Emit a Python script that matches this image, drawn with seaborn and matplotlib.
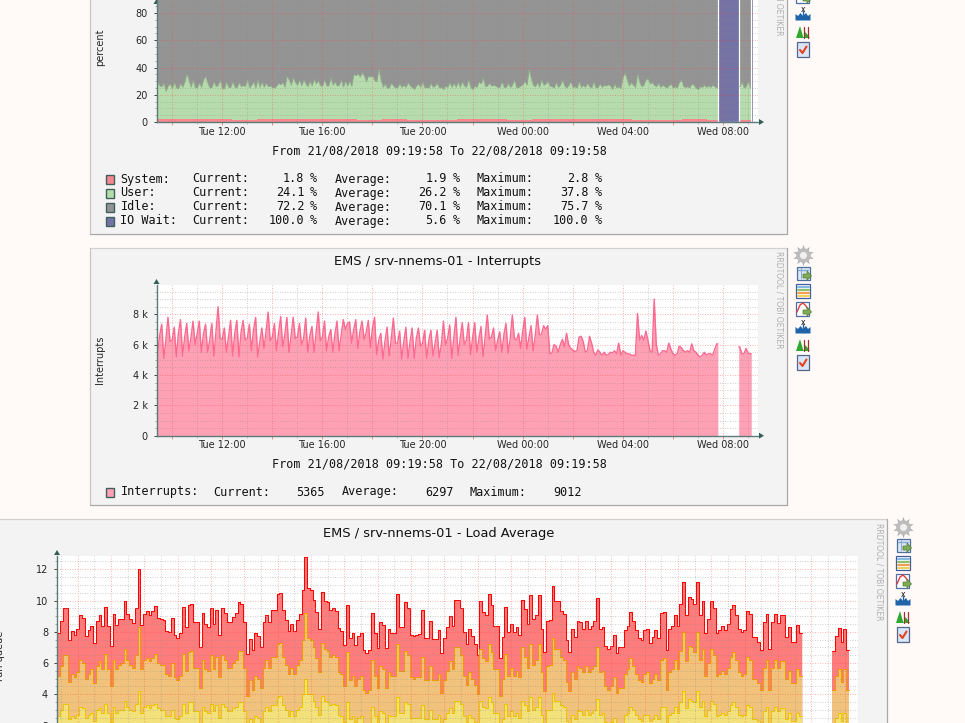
#!/usr/bin/env python3
# -*- coding: utf-8 -*-

import numpy as np
import matplotlib
matplotlib.use("Agg")
import matplotlib.pyplot as plt
from matplotlib.patches import Rectangle, Polygon
import seaborn as sns

# ================= 0. data (5 min samples) =================
START_HOUR = 9.38
END_HOUR = 33.40
GAP_END = 279  # first sample after the outage

# system + user, top of the green area
cpu_top = [
    29.5,26.5,26,28.5,22.5,26.5,28,24.5,29,25,24.5,28.5,25.5,29.5,35.5,30.5,25.5,31,25,25.5,
    28.5,25.5,31,33.5,28.5,25,25.5,29.5,26,27,31,24.5,24.5,29.5,25.5,25.5,29.5,25.5,25,29,
    26,27,26,31.5,25,27,29.5,25,31,25.5,29.5,25.5,28.5,26,26.5,25.5,25,26.5,28.5,27.5,
    29,25.5,33.5,31,27,32.5,29,27,31,26.5,31,28,26,30,26.5,31.5,28,30.5,26.5,26.5,
    31,26.5,26.5,32.5,27,29.5,26.5,27,31,25.5,30,26.5,30,26,35,34,35.5,33,36.5,34,
    29.5,34,33,34,30.5,29.5,39,31,25.5,28,25,25,28.5,26.5,25,25.5,28,25.5,27,25.5,
    29,26.5,25.5,24,26.5,28,25.5,29.5,25,25.5,25,28.5,25.5,26.5,28.5,25,25.5,24,26.5,25.5,
    29,25.5,28.5,25.5,29.5,25.5,29.5,26.5,25.5,31,25.5,24,26.5,25.5,29.5,28,32.5,26,26.5,28.5,
    26.5,27,26.5,25.5,25.5,29.5,25.5,25.5,28.5,25.5,27,31,25,25.5,26.5,27.5,30,27,38.5,32,
    27,26,29,25.5,31,27,28,30,26.5,26,25,29,25.5,27,31,26.5,25,27,29.5,25.5,
    26,25,29.5,25.5,27,25.5,28.5,26,25,29.5,25,25.5,28,25.5,27,26.5,27.5,26.5,24,28,
    25,26,24.5,33,36,31,26.5,29,27,25.5,35.5,29,26,27,31,32,28,29,27,26,
    28.5,25.5,27,26,25,26.5,28,25,26,25,29,31,26,25.5,26,25,28,27,25,24,
    26,25.5,27,25.5,26.5,25.5,27,26,25,
]
cpu_top_end = [26, 29.5, 25, 26, 30, 25]
# system is nearly flat, one value per hour is enough
system_hourly = [1.9,2.0,1.9,1.8,1.9,2.0,1.9,2.1,1.8,1.9,1.8,1.7,1.9,1.9,1.8,1.9,2.0,2.1,1.9,1.8,1.8,1.9,1.8]
system_end = [1.8]
io_wait_gap = [100.0] * 10
io_wait_end = [100.0]

# interrupts, in thousands
interrupts = [
    5.4,6.6,7.35, 5.1,6.35,7.8, 6.2,6.3,7.15, 5.2,6.75,7.65, 5.25,6.5,7.4, 5.6,6.45,7.55, 6.0,6.75,7.55,
    5.5,6.7,7.35, 5.5,6.3,7.4, 5.25,6.85,8.5, 6.4,6.35,7.1, 5.5,6.5,7.6, 5.25,6.75,7.6, 5.2,6.8,7.6,
    6.3,6.4,7.35, 5.6,7.0,7.8, 5.2,6.2,7.1, 5.75,6.9,8.15, 6.25,6.5,7.4, 5.6,6.8,7.85, 5.85,6.7,7.8,
    5.5,6.6,7.8, 6.4,6.5,7.4, 6.0,6.4,7.75, 5.5,6.6,7.2, 5.5,6.8,8.15, 6.25,6.5,7.55, 5.6,6.5,7.0,
    5.5,6.7,7.55, 5.6,6.6,7.65, 7.0,7.4,7.5, 6.1,7.0,7.65, 5.75,6.9,7.55, 6.35,6.8,7.6, 5.8,7.1,7.8,
    5.35,6.3,6.75, 5.05,6.25,7.15, 5.25,6.4,7.75, 6.1,6.1,6.9, 5.05,6.2,7.15, 5.1,6.2,7.1, 5.1,6.4,7.1,
    5.9,6.1,6.95, 5.1,6.3,6.95, 5.25,6.1,6.95, 5.15,6.0,7.55, 6.0,6.4,7.3, 5.1,6.5,7.8, 5.3,6.4,7.45,
    6.0,6.3,7.45, 5.35,6.5,7.45, 5.5,6.4,7.2, 5.2,6.6,7.95, 6.35,6.5,7.1, 5.6,6.3,6.85, 5.5,6.7,7.4,
    5.45,6.4,7.95, 6.4,6.3,6.75, 5.75,6.9,7.8, 5.7,6.5,7.25, 5.6,6.6,7.95, 6.65,6.7,7.25,
    7.0,7.25,5.4,5.45,6.0,5.9,5.5,6.0,6.35,5.85,6.75,6.0,5.75,5.65,5.55,5.6,6.5,6.55,6.2,5.5,
    5.6,6.55,6.1,5.5,5.3,5.65,5.5,5.3,5.5,5.3,5.35,5.5,5.45,5.6,5.4,6.1,5.3,5.6,5.5,5.4,
    5.4,5.3,5.3,5.3,8.05,6.3,6.6,6.3,6.9,6.3,5.6,5.5,9.0,6.0,5.3,5.4,5.6,5.6,5.5,6.1,
    5.7,5.4,5.3,5.4,5.9,5.8,5.6,5.5,5.6,5.5,6.05,5.6,5.5,5.3,5.2,5.3,5.5,5.3,5.4,5.4,
    5.3,5.7,6.05,
]
interrupts_end = [5.85, 5.4, 5.4, 5.75, 5.45, 5.4]

# run queue, tops of the three areas
load_1 = [
    7.9,8.7,9.5,9.5,7.5,8.05,7.8,8.2,9.1,8.9,7.7,8.1,8.4,7.3,8.7,9.05,8.4,9.6,8.4,7.1,
    9.15,8.45,8.8,8.85,10.0,9.15,8.8,8.55,9.55,12.0,8.45,9.15,9.3,9.05,9.3,9.65,8.9,8.8,8.75,8.05,
    8.0,8.9,7.8,7.6,7.95,9.6,8.3,9.7,9.8,8.6,8.6,7.05,9.2,8.5,8.3,9.5,8.5,9.4,7.8,9.5,
    9.2,8.6,8.6,8.95,9.2,9.9,9.8,8.6,6.55,7.55,6.85,7.95,7.7,7.05,8.6,9.1,8.6,9.4,9.4,10.4,
    10.5,9.4,8.75,8.05,8.5,8.05,8.75,9.15,10.7,12.8,10.8,10.7,10.05,9.25,8.2,10.55,10.0,9.9,9.4,9.5,
    9.35,8.25,8.05,7.15,9.7,7.6,7.9,7.15,7.7,7.95,6.85,6.65,6.85,9.2,7.95,6.95,8.65,8.45,6.95,8.2,
    7.9,7.9,10.4,8.3,8.3,9.9,9.5,7.8,7.7,7.8,7.85,9.4,7.6,7.6,8.7,7.55,7.55,8.1,6.65,7.6,
    8.3,9.0,8.4,10.05,10.05,9.55,8.0,7.25,8.2,7.75,7.25,6.5,10.0,9.25,9.05,10.4,9.7,8.4,8.4,6.35,
    7.65,9.6,8.0,8.5,8.0,8.3,7.8,10.05,9.45,8.5,10.35,8.8,9.1,10.35,8.2,6.7,8.7,8.75,10.9,10.0,
    10.0,9.35,9.15,7.45,6.7,8.2,7.65,8.7,8.6,8.15,8.7,8.2,8.4,8.7,10.15,8.2,8.3,7.1,6.9,7.1,
    7.8,6.65,7.0,7.0,8.1,8.4,9.25,8.7,8.1,7.6,7.45,8.1,8.2,7.3,7.65,8.1,7.6,9.2,9.25,6.85,
    8.2,8.4,9.1,8.4,9.8,11.2,9.05,10.2,10.1,9.75,11.2,9.1,10.0,7.95,8.85,10.0,9.55,7.9,8.1,8.35,
    8.1,8.5,9.45,9.7,9.1,8.2,8.0,8.1,9.35,9.15,7.65,7.65,7.35,6.85,8.6,9.15,6.9,8.6,9.15,8.55,
    9.05,9.05,7.65,8.3,7.35,7.35,8.45,7.9,
]
load_5 = [
    5.2,5.8,6.5,6.5,4.8,5.3,5.1,5.4,6.2,6.0,5.0,5.3,5.6,4.7,5.8,6.1,5.6,6.6,5.6,4.5,
    6.2,5.6,5.9,6.0,6.9,6.2,5.9,5.7,6.5,8.3,5.6,6.2,6.3,6.1,6.3,6.6,6.0,5.9,5.9,5.3,
    5.2,6.0,5.1,4.9,5.2,6.6,5.5,6.7,6.8,5.7,5.7,4.4,6.2,5.6,5.5,6.5,5.6,6.4,5.1,6.5,
    6.2,5.7,5.7,6.0,6.2,6.8,6.8,5.7,3.9,4.9,4.3,5.2,5.0,4.4,5.7,6.2,5.7,6.4,6.4,7.2,
    7.3,6.4,5.9,5.3,5.7,5.3,5.9,6.2,7.5,9.2,7.6,7.5,7.0,6.3,5.4,7.3,6.9,6.8,6.4,6.5,
    6.4,5.4,5.3,4.5,6.7,4.9,5.2,4.5,5.0,5.2,4.3,4.1,4.3,6.2,5.2,4.4,5.8,5.6,4.4,5.4,
    5.2,5.2,7.2,5.5,5.5,6.8,6.5,5.1,5.0,5.1,5.1,6.4,4.9,4.9,5.8,4.9,4.9,5.3,4.1,4.9,
    5.5,6.1,5.6,7.0,7.0,6.5,5.2,4.6,5.4,5.0,4.6,4.0,6.9,6.3,6.1,7.2,6.7,5.6,5.6,3.9,
    5.0,6.6,5.2,5.7,5.2,5.5,5.1,7.0,6.4,5.7,7.2,5.9,6.2,7.2,5.4,4.2,5.8,5.9,7.6,6.9,
    6.9,6.4,6.2,4.8,4.2,5.4,5.0,5.8,5.7,5.4,5.8,5.4,5.6,5.8,7.0,5.4,5.5,4.5,4.3,4.5,
    5.1,4.1,4.4,4.4,5.3,5.6,6.3,5.8,5.3,4.9,4.8,5.3,5.4,4.7,5.0,5.3,4.9,6.2,6.3,4.3,
    5.4,5.6,6.2,5.6,6.8,8.0,6.1,7.1,7.0,6.7,8.0,6.2,6.9,5.2,6.0,6.9,6.5,5.2,5.3,5.5,
    5.3,5.7,6.4,6.7,6.2,5.4,5.2,5.3,6.4,6.2,5.0,5.0,4.7,4.3,5.7,6.2,4.3,5.7,6.2,5.7,
    6.1,6.1,5.0,5.5,4.7,4.7,5.6,5.2,
]
load_15 = [
    2.6,3.0,3.4,3.4,2.4,2.6,2.5,2.7,3.2,3.1,2.5,2.7,2.8,2.3,3.0,3.1,2.8,3.4,2.8,2.2,
    3.2,2.8,3.0,3.0,3.6,3.2,3.0,2.9,3.4,4.2,2.8,3.2,3.3,3.1,3.3,3.4,3.1,3.0,3.0,2.6,
    2.6,3.0,2.5,2.4,2.6,3.4,2.8,3.5,3.5,2.9,2.9,2.1,3.2,2.9,2.8,3.4,2.9,3.3,2.5,3.4,
    3.2,2.9,2.9,3.1,3.2,3.5,3.5,2.9,1.9,2.4,2.0,2.6,2.5,2.1,2.9,3.2,2.9,3.3,3.3,3.8,
    3.9,3.3,3.0,2.6,2.9,2.6,3.0,3.2,4.0,5.0,4.0,4.0,3.6,3.2,2.7,3.9,3.6,3.5,3.3,3.4,
    3.3,2.7,2.6,2.2,3.5,2.4,2.6,2.2,2.5,2.6,2.0,1.9,2.0,3.2,2.6,2.1,2.9,2.8,2.1,2.7,
    2.6,2.6,3.8,2.8,2.8,3.5,3.4,2.5,2.5,2.5,2.5,3.3,2.4,2.4,3.0,2.4,2.4,2.7,1.9,2.4,
    2.8,3.1,2.8,3.6,3.6,3.4,2.6,2.2,2.7,2.5,2.2,1.9,3.6,3.2,3.1,3.8,3.5,2.8,2.8,1.8,
    2.4,3.4,2.6,2.9,2.6,2.8,2.5,3.6,3.3,2.9,3.8,3.0,3.2,3.8,2.7,1.9,3.0,3.0,4.1,3.6,
    3.6,3.3,3.2,2.3,1.9,2.7,2.4,3.0,2.9,2.7,3.0,2.7,2.8,3.0,3.7,2.7,2.8,2.2,2.0,2.2,
    2.5,1.9,2.1,2.1,2.7,2.8,3.2,3.0,2.7,2.4,2.3,2.7,2.7,2.3,2.4,2.7,2.4,3.2,3.2,2.0,
    2.7,2.8,3.2,2.8,3.5,4.2,3.1,3.7,3.6,3.5,4.2,3.2,3.6,2.6,3.0,3.6,3.4,2.6,2.7,2.8,
    2.7,2.9,3.3,3.5,3.2,2.7,2.6,2.7,3.3,3.2,2.4,2.4,2.3,2.0,2.9,3.2,2.0,2.9,3.2,2.9,
    3.1,3.1,2.4,2.8,2.3,2.3,2.8,2.6,
]
load_1_end = [6.8, 7.7, 8.25, 7.35, 8.2, 6.85]
load_5_end = [4.3, 5.2, 5.6, 4.8, 5.6, 4.3]
load_15_end = [2.0, 2.5, 2.8, 2.3, 2.8, 2.0]

x_tick_hours = [12, 16, 20, 24, 28, 32]
x_tick_labels = ["Tue 12:00", "Tue 16:00", "Tue 20:00", "Wed 00:00", "Wed 04:00", "Wed 08:00"]
date_range = "From 21/08/2018 09:19:58 To 22/08/2018 09:19:58"

cpu_legend = [
    ("System:", "1.8", "1.9", "2.8", "#F6868F"),
    ("User:", "24.1", "26.2", "37.8", "#B5DDA9"),
    ("Idle:", "72.2", "70.1", "75.7", "#949494"),
    ("IO Wait:", "100.0", "5.6", "100.0", "#7373A5"),
]

# ================= 1. config =================
W, H = 965, 723
PAGE = "#FFFAF8"
PANEL = "#F3F3F3"
MONO = "DejaVu Sans Mono"
SANS = "DejaVu Sans"
AXIS = "#5B7C78"
ARROW = "#2F5F55"
MONO_SIZE = 8.45

sns.set_style("white")
plt.rcParams["font.family"] = [SANS]

fig = plt.figure(figsize=(W / 100, H / 100), dpi=100, facecolor=PAGE)
bg = fig.add_axes([0, 0, 1, 1], zorder=0)
bg.set_xlim(0, W)
bg.set_ylim(H, 0)
bg.axis("off")


# ================= 2. helpers =================
def step_xy(first, values):
    # one extra point so that the last sample gets its full width
    y = np.append(np.asarray(values, dtype=float), values[-1])
    x = START_HOUR + (first + np.arange(len(y))) / 12
    return x, y


def sloped_xy(first, values):
    # points in the middle of each sample, flat half sample at both ends of a run
    vals = np.asarray(values, dtype=float)
    y = np.concatenate([[vals[0]], vals, [vals[-1]]])
    pos = np.concatenate([[0.0], np.arange(len(vals)) + 0.5, [float(len(vals))]])
    return START_HOUR + (first + pos) / 12, y


def area(ax, first, values, fill, line=None, lw=0.8, base=0.0, sloped=False):
    if sloped:
        x, y = sloped_xy(first, values)
        ax.fill_between(x, base, y, color=fill, lw=0, zorder=1)
        style = "default"
    else:
        x, y = step_xy(first, values)
        ax.fill_between(x, base, y, step="post", color=fill, lw=0, zorder=1)
        style = "steps-post"
    if line:
        sns.lineplot(x=x, y=y, drawstyle=style, estimator=None, color=line,
                     lw=lw, ax=ax, legend=False, zorder=2)


def chart_axes(left, right, top, bottom, ylim, y_major, y_minor, y_labels):
    ax = fig.add_axes([left / W, 1 - bottom / H, (right - left) / W, (bottom - top) / H], zorder=2)
    ax.set_facecolor("white")
    ax.set_xlim(START_HOUR, END_HOUR)
    ax.set_ylim(*ylim)
    ax.set_xticks(np.arange(10, 34, 2))
    ax.set_xticks(np.arange(10, 34, 1), minor=True)
    ax.set_yticks(y_major)
    ax.set_yticklabels(y_labels)
    ax.set_yticks(np.arange(0, ylim[1], y_minor), minor=True)
    ax.tick_params(axis="y", which="major", length=2.4, width=0.7, color="#444444", pad=4, labelsize=7, left=True)
    ax.tick_params(axis="y", which="minor", length=1.4, width=0.5, color="#888888", left=True)
    ax.tick_params(axis="x", which="major", length=2.4, width=0.7, color="#EE8888", pad=1, labelsize=7, bottom=True)
    ax.tick_params(axis="x", which="minor", length=1.4, width=0.5, color="#AAAAAA", bottom=True)
    ax.set_axisbelow(False)
    ax.grid(True, which="minor", color="#8A8A8A", alpha=0.55, lw=0.6, ls=(0, (1, 2)))
    ax.grid(True, which="major", color="#FF4040", alpha=0.55, lw=0.6, ls=(0, (1, 2)))
    sns.despine(ax=ax)
    for side in ["left", "bottom"]:
        ax.spines[side].set_color(AXIS)
        ax.spines[side].set_linewidth(1.0)
        ax.spines[side].set_zorder(4)
    return ax


def hour_labels(ax):
    # text only every 4 hours, the ticks in between stay bare
    labels = [x_tick_labels[x_tick_hours.index(h)] if h in x_tick_hours else "" for h in np.arange(10, 34, 2)]
    ax.set_xticklabels(labels)


def panel(left, top, right, bottom):
    bg.add_patch(Rectangle((left, top), right - left, bottom - top, fc=PANEL, ec="none", zorder=1))
    bg.plot([left, right], [top, top], color="#D4D0CE", lw=0.9, zorder=2)
    bg.plot([left, left], [top, bottom], color="#C4C4C4", lw=0.9, zorder=2)
    bg.plot([right, right], [top, bottom], color="#A8A8A8", lw=0.9, zorder=2)
    bg.plot([left, right], [bottom, bottom], color="#A8A8A8", lw=0.9, zorder=2)


def arrows(x_axis, y_axis, y_top, x_right=None):
    bg.add_patch(Polygon([[x_axis - 3, y_top], [x_axis + 3, y_top], [x_axis, y_top - 5]], fc=ARROW, ec="none", zorder=3))
    if x_right is not None:
        bg.add_patch(Polygon([[x_right, y_axis - 3], [x_right, y_axis + 3], [x_right + 5, y_axis]], fc=ARROW, ec="none", zorder=3))


def watermark(x, y_top):
    bg.text(x, y_top, "RRDTOOL / TOBI OETIKER", rotation=270, fontsize=5.5, color="#AFAFAF",
            ha="center", va="top", zorder=3)


def swatch(y, color):
    bg.add_patch(Rectangle((105.5, y - 4.5), 8.5, 9, fc=color, ec="#3F5F5C", lw=1, zorder=3))


def mono(x, y, text, ha="left"):
    bg.text(x, y, text, family=MONO, fontsize=MONO_SIZE, ha=ha, va="center", color="#111111", zorder=3)


def doc(cx, cy, w=11, h=14, fc="#DCE8F8", ec="#4F6F9F"):
    bg.add_patch(Rectangle((cx - w / 2, cy - h / 2), w, h, fc=fc, ec=ec, lw=0.9, zorder=3))


def green_arrow(cx, y):
    bg.add_patch(Polygon([[cx + 0, y + 1], [cx + 4, y + 1], [cx + 4, y - 2], [cx + 8.5, y + 3], [cx + 4, y + 7], [cx + 4, y + 5], [cx + 0, y + 5]],
                         fc="#7FAE52", ec="#4F7A33", lw=0.5, zorder=4))


def icons(cx, y0):
    # gear
    bg.scatter([cx], [y0], marker=(10, 1, 0), s=240, color="#A8A8A8", zorder=3, lw=0)
    bg.scatter([cx], [y0], marker="o", s=110, color="#BDBDBD", zorder=3, lw=0)
    bg.scatter([cx], [y0], marker="o", s=26, color="#F0F0F0", zorder=4, lw=0)
    # table with arrow
    y = y0 + 18
    doc(cx, y, 13, 13)
    bg.plot([cx - 5, cx + 5], [y - 3, y - 3], color="#88AACC", lw=1, zorder=3)
    bg.plot([cx - 2, cx - 2], [y - 5, y + 5], color="#88AACC", lw=0.7, zorder=3)
    green_arrow(cx, y)
    # list
    y = y0 + 36
    doc(cx, y, 14.5, 14.5, fc="#FFFFFF", ec="#3F5F9F")
    for dy, c in zip([-4, -1, 2, 5], ["#88B8E0", "#8FBF6F", "#F0A050", "#F0D060"]):
        bg.plot([cx - 5.5, cx + 5.5], [y + dy, y + dy], color=c, lw=1.6, zorder=4)
    # curve chart with arrow
    y = y0 + 54
    doc(cx - 1, y, 13, 13.5, fc="#FFFFFF", ec="#4F6F9F")
    bg.plot([cx - 6, cx - 3, cx, cx + 3, cx + 6], [y + 3, y - 4, y - 6, y - 3, y + 2], color="#E04040", lw=1, zorder=4)
    green_arrow(cx, y)
    # blue bars with black cross
    y = y0 + 72
    bg.add_patch(Polygon([[cx - 7.5, y + 6.5], [cx - 7.5, y], [cx - 5, y + 2], [cx - 2.5, y - 1], [cx, y + 2], [cx + 3, y - 1], [cx + 5, y + 2],
                          [cx + 7.5, y], [cx + 7.5, y + 6.5]], fc="#1F63A8", ec="none", zorder=3))
    bg.plot([cx, cx], [y - 3, y + 2], color="#1F63A8", lw=1, zorder=3)
    bg.text(cx, y - 4.5, "x", color="#111111", fontsize=5.5, ha="center", va="center", zorder=4)
    # green peaks with red bars
    y = y0 + 90
    bg.add_patch(Polygon([[cx - 7, y + 6], [cx - 3, y - 6], [cx + 0.5, y + 6], [cx + 2.5, y], [cx + 7, y + 6]], fc="#2FA82F", ec="none", zorder=3))
    bg.plot([cx + 1, cx + 1], [y - 5.5, y + 6], color="#A03030", lw=0.9, zorder=4)
    bg.plot([cx + 5, cx + 5], [y - 5.5, y + 6], color="#A03030", lw=0.9, zorder=4)
    # checked page
    y = y0 + 107
    doc(cx, y, 11.5, 15, fc="#D8E6F8", ec="#56668A")
    bg.plot([cx - 3, cx - 0.5, cx + 3.5], [y + 1, y + 4, y - 2.5], color="#E8401C", lw=1.5, zorder=4)


# ================= 3. panels =================
panel(90, -30, 786.5, 234)
panel(90, 248, 786.5, 505)
panel(-5, 518.5, 886.5, 760)

# ----- CPU -----
ax_cpu = chart_axes(156.5, 758, -14.25, 122, (0, 100), [0, 20, 40, 60, 80], 5, ["0", "20", "40", "60", "80"])
area(ax_cpu, 0, np.full(len(cpu_top), 100.0), "#949494")
area(ax_cpu, GAP_END, np.full(len(cpu_top_end), 100.0), "#949494")
area(ax_cpu, 0, cpu_top, "#B6DCAD", line="#8DB086", lw=0.4, sloped=True)
area(ax_cpu, GAP_END, cpu_top_end, "#B6DCAD", line="#8DB086", lw=0.4, sloped=True)
# hourly steps, the sample index of each block is 12 apart
x_sys = START_HOUR + np.arange(len(system_hourly) + 1)
ax_cpu.fill_between(x_sys, 0, system_hourly + [system_hourly[-1]], step="post", color="#F6868F", lw=0, zorder=1.2)
area(ax_cpu, GAP_END, system_end * len(cpu_top_end), "#F6868F")
for first, vals in [(len(cpu_top), io_wait_gap), (GAP_END + len(cpu_top_end), io_wait_end)]:
    x, y = step_xy(first, vals)
    ax_cpu.fill_between(x, 0, y, step="post", color="#7373A5", ec="white", lw=0.9, zorder=1.5)
ax_cpu.set_xlim(START_HOUR, END_HOUR)
hour_labels(ax_cpu)
arrows(156.5, 122, 4, 759)
bg.text(100.5, 47, "percent", rotation=90, fontsize=7, ha="center", va="center", zorder=3)
watermark(779, -62)
icons(803, -58)
mono(439, 151, date_range, ha="center")
for i, (name, cur, avg, mx, col) in enumerate(cpu_legend):
    y = 179 + i * 14
    swatch(y, col)
    mono(120.5, y, name)
    mono(192.5, y, "Current:")
    mono(304.5, y, cur, ha="right")
    mono(310, y, "%")
    mono(335, y, "Average:")
    mono(447, y, avg, ha="right")
    mono(453, y, "%")
    mono(476.5, y, "Maximum:")
    mono(588.5, y, mx, ha="right")
    mono(595, y, "%")

# ----- Interrupts -----
ax_int = chart_axes(156.5, 758, 285, 435.7, (0, 9.93), [0, 2, 4, 6, 8], 0.5, ["0", "2 k", "4 k", "6 k", "8 k"])
area(ax_int, 0, interrupts, "#FFA0B4", line="#FF6A92", lw=1.0, sloped=True)
area(ax_int, GAP_END, interrupts_end, "#FFA0B4", line="#FF6A92", lw=1.0, sloped=True)
ax_int.set_xlim(START_HOUR, END_HOUR)
hour_labels(ax_int)
arrows(156.5, 435.7, 284, 759)
bg.text(437.5, 262, "EMS / srv-nnems-01 - Interrupts", fontsize=9.35, ha="center", va="center", color="#111111", zorder=3)
bg.text(100.5, 360, "Interrupts", rotation=90, fontsize=7, ha="center", va="center", zorder=3)
watermark(779, 251)
icons(803, 255)
mono(439, 464, date_range, ha="center")
swatch(492, "#FFA0B4")
mono(120.5, 492, "Interrupts:")
mono(213, 492, "Current:")
mono(325, 492, "5365", ha="right")
mono(341.5, 492, "Average:")
mono(454, 492, "6297", ha="right")
mono(469.5, 492, "Maximum:")
mono(582, 492, "9012", ha="right")

# ----- Load -----
ax_load = chart_axes(57, 858, 555.7, 756.8, (0, 12.87), [0, 2, 4, 6, 8, 10, 12], 0.5, ["0", "2", "4", "6", "8", "10", "12"])
ax_load.set_xticks(np.arange(10, 34, 1))
ax_load.set_xticks(np.arange(9.5, 33.5, 1), minor=True)
ax_load.set_xticklabels([])
for first, red, orange, yellow in [(0, load_1, load_5, load_15), (GAP_END, load_1_end, load_5_end, load_15_end)]:
    area(ax_load, first, red, "#FF7C7C", line="#FF0000", lw=0.75)
    area(ax_load, first, orange, "#F1C27C", line="#EE9A00", lw=0.75)
    area(ax_load, first, yellow, "#F3E27C", line="#EEC400", lw=0.75)
ax_load.set_xlim(START_HOUR, END_HOUR)
ax_load.set_ylim(0, 12.87)
arrows(57, 756.8, 555, None)
bg.text(438.5, 533, "EMS / srv-nnems-01 - Load Average", fontsize=9.35, ha="center", va="center", color="#111111", zorder=3)
bg.text(0.5, 656, "run queue", rotation=90, fontsize=7, ha="center", va="center", zorder=3)
watermark(879, 523)
icons(903, 527)

plt.savefig("out.png", dpi=100, facecolor=PAGE)
plt.close()
